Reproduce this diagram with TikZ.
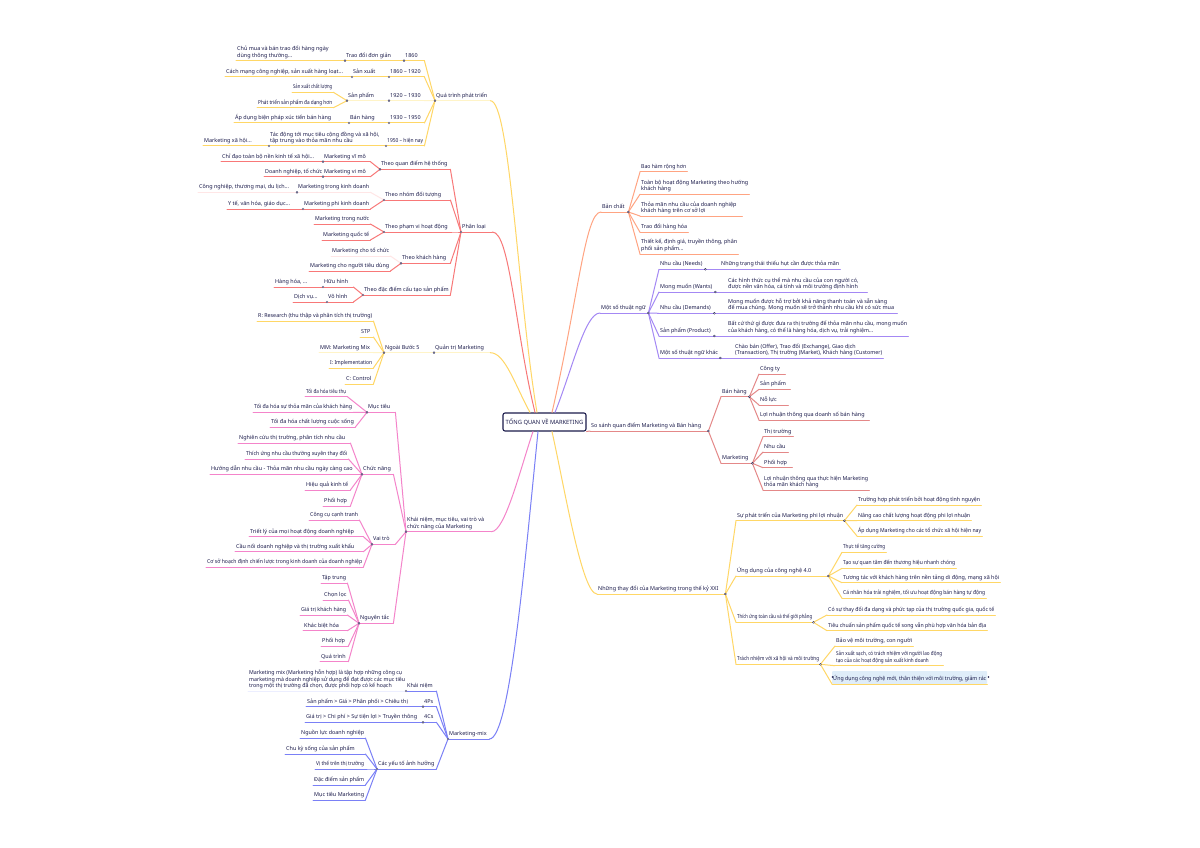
\documentclass[tikz,border=0pt]{standalone}
\usepackage{fontspec}
\setmainfont{Noto Sans}
\usetikzlibrary{calc}
\definecolor{navy}{HTML}{1B1B4B}
\definecolor{cyel}{HTML}{FFD766}
\definecolor{cyelp}{HTML}{FFF4C8}
\definecolor{cred}{HTML}{F87878}
\definecolor{credp}{HTML}{FFE6E6}
\definecolor{cpink}{HTML}{F484CA}
\definecolor{cblue}{HTML}{7A80F6}
\definecolor{cbluep}{HTML}{ECEEFF}
\definecolor{corg}{HTML}{FFA482}
\definecolor{cpur}{HTML}{A488F4}
\definecolor{csal}{HTML}{E48888}
\definecolor{chl}{HTML}{DFEDF9}
\newsavebox\tbx
\newdimen\tbw
\newcommand{\fitt}[2]{\sbox\tbx{\begin{tabular}[b]{@{}l@{}}#2\end{tabular}}\tbw=\wd\tbx
 \ifdim\tbw>#1pt\relax\pgfmathsetmacro{\rt}{#1/\tbw}\scalebox{\rt}[1]{\usebox\tbx}\else\usebox\tbx\fi}
\tikzset{x=1pt,y=-1pt,
 tp/.style={anchor=south west,inner xsep=0pt,inner ysep=1.2pt,text=navy,font=\fontsize{5.45}{6.5}\selectfont},
 lk/.style={line width=1pt,line cap=round},
 ctrn/.style={draw=navy,line width=1.1pt,fill=white,rounded corners=2pt,minimum width=83pt,minimum height=18pt,inner sep=0pt,text=navy,font=\fontsize{5.8}{6.5}\selectfont}}
% name x1 x2 y color text
\newcommand{\tpc}[6]{\pgfmathsetmacro{\wdth}{#3-#2}\pgfmathsetmacro{\wtx}{#3-#2-2}%
 \node[tp,minimum width=\wdth pt] (#1) at (#2,#4) {\hbox to \wdth pt{\hskip1pt\fitt{\wtx}{#6}\hss}};
 \draw[#5,lk] (#1.south west)--(#1.south east);}
\newcommand{\lkL}[3]{\draw[#3,lk] (#2.south east) .. controls ($(#2.south east)!0.4!(#1.south west)$ |- #2.south east) and ($(#2.south east)!0.65!(#1.south west)$) .. (#1.south west);}
\newcommand{\lkR}[3]{\draw[#3,lk] (#2.south west) .. controls ($(#2.south west)!0.4!(#1.south east)$ |- #2.south west) and ($(#2.south west)!0.65!(#1.south east)$) .. (#1.south east);}
\newcommand{\jnL}[1]{\draw[navy,fill=white,line width=0.3pt] (#1.south west) circle (1pt);}
\newcommand{\jnR}[1]{\draw[navy,fill=white,line width=0.3pt] (#1.south east) circle (1pt);}
\begin{document}
\begin{tikzpicture}
\useasboundingbox (0,0) rectangle (1200,848);
\fill[white] (0,0) rectangle (1200,848);
\node[ctrn] (ctr) at (544.5,422) {TỔNG QUAN VỀ MARKETING};
% --- Qua trinh phat trien
\tpc{qt}{435}{490}{100.7}{cyelp}{Quá trình phát triển}
\tpc{y1}{404}{424}{60.7}{cyel}{1860}
\tpc{y2}{389}{424}{77}{cyel}{1860 – 1920}
\tpc{y3}{389}{424}{100.7}{cyelp}{1920 – 1930}
\tpc{y4}{389}{424}{123}{cyel}{1930 – 1950}
\tpc{y5}{386}{424}{146}{cyel}{1950 – hiện nay}
\tpc{y1a}{345}{404}{60.7}{cyel}{Trao đổi đơn giản}
\tpc{y1b}{236}{345}{60.7}{cyel}{Chủ mua và bán trao đổi hàng ngày\\dùng thông thường...}
\tpc{y2a}{352}{389}{77}{cyel}{Sản xuất}
\tpc{y2b}{225}{352}{77}{cyel}{Cách mạng công nghiệp, sản xuất hàng loạt...}
\tpc{y3a}{347}{389}{100.7}{cyelp}{Sản phẩm}
\tpc{y3b}{292}{333}{92.3}{cyel}{Sản xuất chất lượng}
\tpc{y3c}{257}{333}{107.7}{cyel}{Phát triển sản phẩm đa dạng hơn}
\tpc{y4a}{349}{389}{123}{cyel}{Bán hàng}
\tpc{y4b}{234}{349}{123}{cyel}{Áp dụng biện pháp xúc tiến bán hàng}
\tpc{y5a}{269}{386}{146}{cyel}{Tác động tới mục tiêu cộng đồng và xã hội,\\tập trung vào thỏa mãn nhu cầu}
\tpc{y5b}{203}{269}{146}{cyel}{Marketing xã hội...}
\lkL{qt}{y1}{cyel}\lkL{qt}{y2}{cyel}\lkL{qt}{y3}{cyelp}\lkL{qt}{y4}{cyel}\lkL{qt}{y5}{cyel}
\lkL{y3a}{y3b}{cyel}\lkL{y3a}{y3c}{cyel}
\foreach \n in {qt,y1a,y2a,y2,y3,y3a,y4,y4a,y5,y5a,y1} {\jnL{\n}}
% --- Phan loai
\tpc{pl}{461}{492}{232}{cred}{Phân loại}
\tpc{r1}{380}{450}{169.3}{cred}{Theo quan điểm hệ thống}
\tpc{r2}{384}{450}{200}{cred}{Theo nhóm đối tượng}
\tpc{r3}{384}{450}{232}{cred}{Theo phạm vi hoạt động}
\tpc{r4}{401}{450}{263.3}{cred}{Theo khách hàng}
\tpc{r5}{363}{450}{295}{cred}{Theo đặc điểm cấu tạo sản phẩm}
\tpc{r1a}{323}{370}{161.7}{cred}{Marketing vĩ mô}
\tpc{r1b}{323}{370}{176.7}{cred}{Marketing vi mô}
\tpc{r1c}{221}{323}{161.7}{cred}{Chỉ đạo toàn bộ nền kinh tế xã hội...}
\tpc{r1d}{264}{323}{176.7}{cred}{Doanh nghiệp, tổ chức}
\tpc{r2a}{297}{370}{192.3}{credp}{Marketing trong kinh doanh}
\tpc{r2b}{303}{370}{209}{cred}{Marketing phi kinh doanh}
\tpc{r2c}{198}{297}{192.3}{credp}{Công nghiệp, thương mại, du lịch...}
\tpc{r2d}{227}{303}{209}{cred}{Y tế, văn hóa, giáo dục...}
\tpc{r3a}{314}{370}{224}{cred}{Marketing trong nước}
\tpc{r3b}{322}{370}{240}{cred}{Marketing quốc tế}
\tpc{r4a}{331}{390}{256}{credp}{Marketing cho tổ chức}
\tpc{r4b}{309}{390}{271}{cred}{Marketing cho người tiêu dùng}
\tpc{r5a}{323}{353}{287}{cred}{Hữu hình}
\tpc{r5b}{327}{353}{302}{cred}{Vô hình}
\tpc{r5c}{274}{323}{287}{cred}{Hàng hóa, ...}
\tpc{r5d}{293}{327}{302}{cred}{Dịch vụ...}
\lkL{pl}{r1}{cred}\lkL{pl}{r2}{cred}\lkL{pl}{r3}{cred}\lkL{pl}{r4}{cred}\lkL{pl}{r5}{cred}
\lkL{r1}{r1a}{cred}\lkL{r1}{r1b}{cred}\lkL{r2}{r2a}{credp}\lkL{r2}{r2b}{cred}
\lkL{r3}{r3a}{cred}\lkL{r3}{r3b}{cred}\lkL{r4}{r4a}{credp}\lkL{r4}{r4b}{cred}
\lkL{r5}{r5a}{cred}\lkL{r5}{r5b}{cred}
\foreach \n in {pl,r1,r2,r3,r4,r5,r1a,r1b,r2a,r2b,r5a,r5b} {\jnL{\n}}
% --- Quan tri
\tpc{qm}{434}{490}{352.7}{cyelp}{Quản trị Marketing}
\tpc{qb}{384}{434}{352.7}{cyelp}{Ngoài Bước 5}
\tpc{q1}{257}{373}{321}{cyel}{R: Research (thu thập và phân tích thị trường)}
\tpc{q2}{360}{373}{337}{cyel}{STP}
\tpc{q3}{319}{373}{352.7}{cyelp}{MM: Marketing Mix}
\tpc{q4}{329}{373}{368}{cyel}{I: Implementation}
\tpc{q5}{345}{373}{384}{cyel}{C: Control}
\lkL{qb}{q1}{cyel}\lkL{qb}{q2}{cyel}\lkL{qb}{q3}{cyelp}\lkL{qb}{q4}{cyel}\lkL{qb}{q5}{cyel}
\foreach \n in {qm,qb} {\jnL{\n}}
% --- Khai niem, muc tieu
\tpc{km}{406}{491}{531.7}{cpink}{Khái niệm, mục tiêu, vai trò và\\chức năng của Marketing}
\tpc{p1}{367}{395}{412.3}{cpink}{Mục tiêu}
\tpc{p2}{362}{393}{474.3}{cpink}{Chức năng}
\tpc{p3}{372}{395}{544.3}{cpink}{Vai trò}
\tpc{p4}{359}{393}{623.3}{cpink}{Nguyên tắc}
\tpc{p1a}{305}{347}{396.7}{cpink}{Tối đa hóa tiêu thụ}
\tpc{p1b}{253}{353}{412.3}{cpink}{Tối đa hóa sự thỏa mãn của khách hàng}
\tpc{p1c}{270}{355}{427}{cpink}{Tối đa hóa chất lượng cuộc sống}
\tpc{p2a}{238}{350}{443}{cpink}{Nghiên cứu thị trường, phân tích nhu cầu}
\tpc{p2b}{245}{348}{459}{cpink}{Thích ứng nhu cầu thường xuyên thay đổi}
\tpc{p2c}{210}{355}{474.3}{cpink}{Hướng dẫn nhu cầu - Thỏa mãn nhu cầu ngày càng cao}
\tpc{p2d}{305}{350}{490}{cpink}{Hiệu quả kinh tế}
\tpc{p2e}{323}{350}{506}{cpink}{Phối hợp}
\tpc{p3a}{309}{359}{520}{cpink}{Công cụ cạnh tranh}
\tpc{p3b}{249}{363}{536.7}{cpink}{Triết lý của mọi hoạt động doanh nghiệp}
\tpc{p3c}{235}{363}{551.7}{cpink}{Cầu nối doanh nghiệp và thị trường xuất khẩu}
\tpc{p3d}{206}{363}{567}{cpink}{Cơ sở hoạch định chiến lược trong kinh doanh của doanh nghiệp}
\tpc{p4a}{321}{347}{583}{cpink}{Tập trung}
\tpc{p4b}{323}{348}{600}{cpink}{Chọn lọc}
\tpc{p4c}{300}{347}{615}{cpink}{Giá trị khách hàng}
\tpc{p4d}{303}{347}{630.7}{cpink}{Khác biệt hóa}
\tpc{p4e}{321}{348}{646}{cpink}{Phối hợp}
\tpc{p4f}{320}{348}{661.7}{cpink}{Quá trình}
\lkL{km}{p1}{cpink}\lkL{km}{p2}{cpink}\lkL{km}{p3}{cpink}\lkL{km}{p4}{cpink}
\foreach \c in {p1a,p1b,p1c} {\lkL{p1}{\c}{cpink}}
\foreach \c in {p2a,p2b,p2c,p2d,p2e} {\lkL{p2}{\c}{cpink}}
\foreach \c in {p3a,p3b,p3c,p3d} {\lkL{p3}{\c}{cpink}}
\foreach \c in {p4a,p4b,p4c,p4d,p4e,p4f} {\lkL{p4}{\c}{cpink}}
\foreach \n in {km,p1,p2,p3,p4} {\jnL{\n}}
% --- Marketing-mix
\tpc{mm}{448}{489}{739}{cblue}{Marketing-mix}
\tpc{b1}{406}{436}{691}{cblue}{Khái niệm}
\tpc{b2}{423}{436}{706.7}{cblue}{4Ps}
\tpc{b3}{423}{436}{722.3}{cblue}{4Cs}
\tpc{b4}{377}{436}{769}{cblue}{Các yếu tố ảnh hưởng}
\tpc{b1a}{248}{406}{691}{cbluep}{Marketing mix (Marketing hỗn hợp) là tập hợp những công cụ\\marketing mà doanh nghiệp sử dụng để đạt được các mục tiêu\\trong một thị trường đã chọn, được phối hợp có kế hoạch}
\tpc{b2a}{306}{423}{706.7}{cblue}{Sản phẩm > Giá > Phân phối > Chiêu thị}
\tpc{b3a}{305}{423}{722.3}{cblue}{Giá trị > Chi phí > Sự tiện lợi > Truyền thông}
\tpc{b4a}{300}{365}{738}{cblue}{Nguồn lực doanh nghiệp}
\tpc{b4b}{285}{365}{754}{cblue}{Chu kỳ sống của sản phẩm}
\tpc{b4c}{315}{365}{769}{cblue}{Vị thế trên thị trường}
\tpc{b4d}{313}{365}{785}{cblue}{Đặc điểm sản phẩm}
\tpc{b4e}{313}{365}{800}{cblue}{Mục tiêu Marketing}
\lkL{mm}{b1}{cblue}\lkL{mm}{b2}{cblue}\lkL{mm}{b3}{cblue}\lkL{mm}{b4}{cblue}
\foreach \c in {b4a,b4b,b4c,b4d,b4e} {\lkL{b4}{\c}{cblue}}
\foreach \n in {mm,b1,b2,b3,b4} {\jnL{\n}}
% --- Ban chat
\tpc{bc}{601}{628}{212}{corg}{Bản chất}
\tpc{o1}{640}{687}{172}{corg}{Bao hàm rộng hơn}
\tpc{o2}{640}{749}{194.3}{corg}{Toàn bộ hoạt động Marketing theo hướng\\khách hàng}
\tpc{o3}{640}{742}{216}{corg}{Thỏa mãn nhu cầu của doanh nghiệp\\khách hàng trên cơ sở lợi}
\tpc{o4}{640}{688}{232.3}{corg}{Trao đổi hàng hóa}
\tpc{o5}{640}{738}{254}{corg}{Thiết kế, định giá, truyền thông, phân\\phối sản phẩm...}
\foreach \c in {o1,o2,o3,o4,o5} {\lkR{bc}{\c}{corg}}
\jnR{bc}
% --- Thuat ngu
\tpc{tn}{600}{648}{313}{cpur}{Một số thuật ngữ}
\tpc{u1}{659}{705}{269.3}{cpur}{Nhu cầu (Needs)}
\tpc{u2}{659}{715}{292}{cpur}{Mong muốn (Wants)}
\tpc{u3}{659}{714}{313.3}{cpur}{Nhu cầu (Demands)}
\tpc{u4}{659}{714}{336}{cpur}{Sản phẩm (Product)}
\tpc{u5}{659}{720}{358}{cpur}{Một số thuật ngữ khác}
\tpc{u1a}{720}{840}{269.3}{cpur}{Những trạng thái thiếu hụt cần được thỏa mãn}
\tpc{u2a}{727}{867}{292}{cpur}{Các hình thức cụ thể mà nhu cầu của con người có,\\được nền văn hóa, cá tính và môi trường định hình}
\tpc{u3a}{727}{897}{313.3}{cpur}{Mong muốn được hỗ trợ bởi khả năng thanh toán và sẵn sàng\\để mua chúng. Mong muốn sẽ trở thành nhu cầu khi có sức mua}
\tpc{u4a}{727}{908}{336}{cpur}{Bất cứ thứ gì được đưa ra thị trường để thỏa mãn nhu cầu, mong muốn\\của khách hàng, có thể là hàng hóa, dịch vụ, trải nghiệm...}
\tpc{u5a}{734}{883}{358}{cpur}{Chào bán (Offer), Trao đổi (Exchange), Giao dịch\\(Transaction), Thị trường (Market), Khách hàng (Customer)}
\foreach \c in {u1,u2,u3,u4,u5} {\lkR{tn}{\c}{cpur}}
\foreach \p/\c in {u1/u1a,u2/u2a,u3/u3a,u4/u4a,u5/u5a} {\draw[cpur,lk] (\p.south east)--(\c.south west);}
\foreach \n in {tn,u1,u2,u3,u4,u5} {\jnR{\n}}
% --- So sanh
\tpc{ss}{590}{708}{431}{csal}{So sánh quan điểm Marketing và Bán hàng}
\tpc{s1}{721}{749}{396.7}{csal}{Bán hàng}
\tpc{s2}{721}{752}{463.3}{csal}{Marketing}
\tpc{s1a}{759}{785}{374}{csal}{Công ty}
\tpc{s1b}{759}{790}{389.3}{csal}{Sản phẩm}
\tpc{s1c}{759}{788}{405}{csal}{Nỗ lực}
\tpc{s1d}{759}{869}{420}{csal}{Lợi nhuận thông qua doanh số bán hàng}
\tpc{s2a}{763}{793}{436.7}{csal}{Thị trường}
\tpc{s2b}{763}{788}{452}{csal}{Nhu cầu}
\tpc{s2c}{763}{792}{467.7}{csal}{Phối hợp}
\tpc{s2d}{763}{869}{490}{csal}{Lợi nhuận thông qua thực hiện Marketing\\thỏa mãn khách hàng}
\lkR{ss}{s1}{csal}\lkR{ss}{s2}{csal}
\foreach \c in {s1a,s1b,s1c,s1d} {\lkR{s1}{\c}{csal}}
\foreach \c in {s2a,s2b,s2c,s2d} {\lkR{s2}{\c}{csal}}
\foreach \n in {ss,s1,s2} {\jnR{\n}}
% --- Nhung thay doi
\fill[chl,rounded corners=1pt] (832,671) rectangle (987,684);
\tpc{td}{597}{725}{594}{cyel}{Những thay đổi của Marketing trong thế kỷ XXI}
\tpc{t1}{736}{844}{520.7}{cyel}{Sự phát triển của Marketing phi lợi nhuận}
\tpc{t2}{736}{828}{576}{cyel}{Ứng dụng của công nghệ 4.0}
\tpc{t3}{736}{813}{622.3}{cyel}{Thích ứng toàn cầu và thế giới phẳng}
\tpc{t4}{736}{820}{664.3}{cyel}{Trách nhiệm với xã hội và môi trường}
\tpc{t1a}{857}{981}{505}{cyel}{Trường hợp phát triển bởi hoạt động tình nguyện}
\tpc{t1b}{857}{971}{520.7}{cyel}{Nâng cao chất lượng hoạt động phi lợi nhuận}
\tpc{t1c}{857}{982}{536}{cyel}{Áp dụng Marketing cho các tổ chức xã hội hiện nay}
\tpc{t2a}{842}{886}{552.3}{cyel}{Thực tế tăng cường}
\tpc{t2b}{842}{956}{568.3}{cyel}{Tạo sự quan tâm đến thương hiệu nhanh chóng}
\tpc{t2c}{842}{1000}{582.7}{cyel}{Tương tác với khách hàng trên nền tảng di động, mạng xã hội}
\tpc{t2d}{842}{986}{598.3}{cyel}{Cá nhân hóa trải nghiệm, tối ưu hoạt động bán hàng tự động}
\tpc{t3a}{827}{995}{615}{cyel}{Có sự thay đổi đa dạng và phức tạp của thị trường quốc gia, quốc tế}
\tpc{t3b}{827}{987}{630.7}{cyel}{Tiêu chuẩn sản phẩm quốc tế song vẫn phù hợp văn hóa bản địa}
\tpc{t4a}{835}{913}{646}{cyel}{Bảo vệ môi trường, con người}
\tpc{t4b}{835}{943}{665.7}{cyel}{Sản xuất sạch, có trách nhiệm với người lao động\\tạo của các hoạt động sản xuất kinh doanh}
\tpc{t4c}{832}{987}{684}{cyel}{ Ứng dụng công nghệ mới, thân thiện với môi trường, giảm rác}
\lkR{td}{t1}{cyel}\lkR{td}{t2}{cyel}\lkR{td}{t3}{cyel}\lkR{td}{t4}{cyel}
\foreach \c in {t1a,t1b,t1c} {\lkR{t1}{\c}{cyel}}
\foreach \c in {t2a,t2b,t2c,t2d} {\lkR{t2}{\c}{cyel}}
\foreach \c in {t3a,t3b} {\lkR{t3}{\c}{cyel}}
\foreach \c in {t4a,t4b,t4c} {\lkR{t4}{\c}{cyel}}
\foreach \n in {td,t1,t2,t3,t4} {\jnR{\n}}
\fill[navy] (832.5,677) circle (0.9pt);
\fill[navy] (988.5,677) circle (0.9pt);
% --- main branches
\draw[cyel,lk] (qt.south east) .. controls (510,100.7) and (518,300) .. ($(ctr.north)+(-7.5,0)$);
\draw[cred,lk] (pl.south east) .. controls (510,232) and (515,330) .. ($(ctr.north)+(-9.5,0)$);
\draw[cyel,lk] (qm.south east) .. controls (505,352.7) and (515,385) .. ($(ctr.north)+(-14.5,0)$);
\draw[cpink,lk] (km.south east) .. controls (505,531.7) and (520,470) .. ($(ctr.south)+(-11.5,0)$);
\draw[cblue,lk] (mm.south east) .. controls (510,739) and (525,560) .. ($(ctr.south)+(-6.5,0)$);
\draw[corg,lk] (bc.south west) .. controls (585,212) and (578,300) .. ($(ctr.north)+(7.5,0)$);
\draw[cpur,lk] (tn.south west) .. controls (585,313) and (572,370) .. ($(ctr.north)+(10.5,0)$);
\draw[cyel,lk] (td.south west) .. controls (582,594) and (565,490) .. ($(ctr.south)+(7.5,0)$);
\draw[csal,lk] (ctr.south east) -- (ss.south west);
\end{tikzpicture}
\end{document}
